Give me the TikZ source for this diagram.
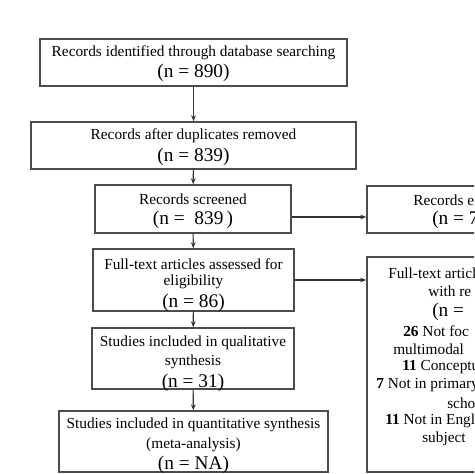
\documentclass[tikz,border=0pt]{standalone}
\usepackage{fontspec}
\setmainfont{Liberation Serif}
\usetikzlibrary{arrows.meta}
\usetikzlibrary{positioning}
\tikzset{
	box/.style={draw=black!70, line width=1.1pt, inner sep=0pt},
	txt/.style={inner sep=0pt, font=\fontsize{11.5}{13}\selectfont},
	big/.style={inner sep=0pt, font=\fontsize{14.5}{16}\selectfont},
	arr/.style={draw=black!80, line width=0.8pt, -{Stealth[length=4.5pt,width=3.5pt]}}
}

\begin{document}
\begin{tikzpicture}[x=0.75pt, y=-0.75pt]
	\fill[white] (0,0) rectangle (474,474);
	\useasboundingbox (0,0) rectangle (474,474);
	\clip (0,0) rectangle (474,474);
	% left column
	\node[box, minimum width=230.25pt, minimum height=35.25pt] (ident) at (193.5,62.5){};
	\node[box, minimum width=243.75pt, minimum height=35.25pt] (dupl) at (193.5,145.5){};
	\node[box, minimum width=147pt, minimum height=36pt] (screen) at (193,209){};
	\node[box, minimum width=150.75pt, minimum height=46.5pt] (elig) at (193.5,280){};
	\node[box, minimum width=151.5pt, minimum height=45.75pt] (qual) at (193,358.5){};
	\node[box, minimum width=201.75pt, minimum height=45.75pt] (quant) at (193.5,441.5){};
	% right column (cut off by the edge)
	\node[box, minimum width=144.75pt, minimum height=35.25pt] (excl) at (463.5,209.5){};
	\node[box, minimum width=144.75pt, minimum height=161.25pt] (reas) at (463.5,364.5){};
	% texts
	\node[txt] (identa) at (193.5,53){Records identified through database searching};
	\node[big] (identn) at (193.5,73){(n = 890)};
	\node[txt] (dupla) at (193.5,136){Records after duplicates removed};
	\node[big] (dupln) at (193.5,157){(n = 839)};
	\node[txt] (screena) at (193,199){Records screened};
	\node[big] (screenn) at (193,220){(n =\ \ 839\,)};
	\node[txt] (eliga) at (193.5,264){Full-text articles assessed for};
	\node[txt] (eligb) at (193.5,282){eligibility};
	\node[big] (elign) at (193.5,303){(n = 86)};
	\node[txt] (quala) at (193,343){Studies included in qualitative};
	\node[txt] (qualb) at (193,362){synthesis};
	\node[big] (qualn) at (193,383){(n = 31)};
	\node[txt] (quanta) at (193.5,425){Studies included in quantitative synthesis};
	\node[txt] (quantb) at (193.5,445){(meta-analysis)};
	\node[big] (quantn) at (193.5,465){(n = NA)};
	\node[txt, anchor=west] (excla) at (413,200){Records e};
	\node[big, anchor=west] (excln) at (432,220){(n = 7};
	\node[txt, anchor=west] (reasa) at (388,273){Full-text articl};
	\node[txt, anchor=west] (reasb) at (428,291){with re};
	\node[big, anchor=west] (reasn) at (432,312){(n =};
	\node[txt, anchor=west] (reasc) at (403,331){\textbf{26} Not foc};
	\node[txt, anchor=west] (reasd) at (393,349){multimodal};
	\node[txt, anchor=west] (rease) at (402,367){\textbf{11} Conceptu};
	\node[txt, anchor=west] (reasf) at (376,385){\textbf{7} Not in primary};
	\node[txt, anchor=west] (reasg) at (447,403){scho};
	\node[txt, anchor=west] (reash) at (385,421){\textbf{11} Not in Engl};
	\node[txt, anchor=west] (reasi) at (422,439){subject};
	% arrows
	\draw[arr] (ident) -- (dupl);
	\draw[arr] (dupl) -- (screen);
	\draw[arr] (screen) -- (elig);
	\draw[arr] (elig) -- (qual);
	\draw[arr] (qual) -- (quant);
	\draw[arr] ([yshift=-6pt]screen.east) -- ([yshift=-6pt]screen.east -| excl.west);
	\draw[arr] (elig.east) -- (elig.east -| reas.west);
\end{tikzpicture}
\end{document}
